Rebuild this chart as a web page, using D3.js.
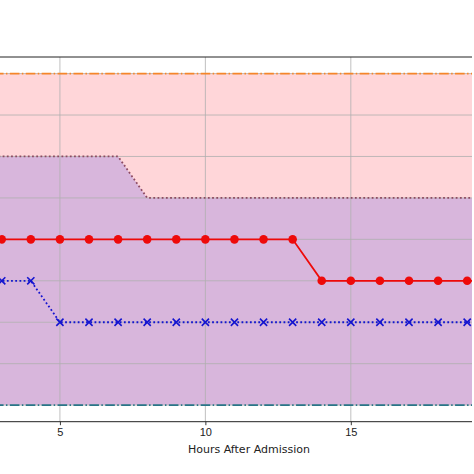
<!DOCTYPE html>
<html>
<head>
<meta charset="utf-8">
<script src="https://cdn.jsdelivr.net/npm/d3@7"></script>
<style>
  body { margin: 0; background: #fff; }
  svg { display: block; font-family: "DejaVu Sans", sans-serif; }
</style>
</head>
<body>
<svg id="chart" width="474" height="474"></svg>
<script>
// hours after admission (0-23), only part of it is in view
const hours = [0, 1, 2, 3, 4, 5, 6, 7, 8, 9, 10, 11, 12, 13, 14, 15, 16, 17, 18, 19, 20, 21, 22, 23]
const upperLimit = [8, 8, 8, 8, 8, 8, 8, 8, 8, 8, 8, 8, 8, 8, 8, 8, 8, 8, 8, 8, 8, 8, 8, 8]
const lowerLimit = [0, 0, 0, 0, 0, 0, 0, 0, 0, 0, 0, 0, 0, 0, 0, 0, 0, 0, 0, 0, 0, 0, 0, 0]
const threshold = [6, 6, 6, 6, 6, 6, 6, 6, 5, 5, 5, 5, 5, 5, 5, 5, 5, 5, 5, 5, 5, 5, 5, 5]
const observed = [4, 4, 4, 4, 4, 4, 4, 4, 4, 4, 4, 4, 4, 4, 3, 3, 3, 3, 3, 3, 3, 3, 3, 3]
const predicted = [3, 3, 3, 3, 3, 2, 2, 2, 2, 2, 2, 2, 2, 2, 2, 2, 2, 2, 2, 2, 2, 2, 2, 2]
const xGrid = [0, 5, 10, 15, 20]
const xTickLabels = [5, 10, 15]   // the ones inside the picture
const yTicks = [0, 1, 2, 3, 4, 5, 6, 7, 8]

const svg = d3.select('#chart')

// the axes are wider than the picture: only the middle part shows
const plot = { left: -119, right: 617, top: 57, bottom: 421.7 }

const x = d3.scaleLinear().domain([-1.15, 24.15]).range([plot.left, plot.right])
const y = d3.scaleLinear().domain([-0.4, 8.4]).range([plot.bottom, plot.top])

const rows = hours.map((h, i) => ({
    h: h,
    upper: upperLimit[i],
    lower: lowerLimit[i],
    thr: threshold[i],
    obs: observed[i],
    pred: predicted[i]
}))

svg.append('defs').append('clipPath').attr('id', 'clip')
    .append('rect')
    .attr('x', 0)
    .attr('y', plot.top)
    .attr('width', 472)
    .attr('height', plot.bottom - plot.top)

const g = svg.append('g').attr('clip-path', 'url(#clip)')

// normal range band
g.append('path')
    .datum(rows)
    .attr('fill', '#ffd6d9')
    .attr('d', d3.area().x(d => x(d.h)).y0(d => y(d.lower)).y1(d => y(d.upper)))

// band under the threshold
g.append('path')
    .datum(rows)
    .attr('fill', '#d8b6dc')
    .attr('d', d3.area().x(d => x(d.h)).y0(d => y(d.lower)).y1(d => y(d.thr)))

// grid
g.selectAll('line.xgrid').data(xGrid).enter().append('line')
    .attr('class', 'xgrid')
    .attr('x1', d => x(d)).attr('x2', d => x(d))
    .attr('y1', plot.top).attr('y2', plot.bottom)
    .attr('stroke', '#b0b0b0').attr('stroke-width', 0.8)
g.selectAll('line.ygrid').data(yTicks).enter().append('line')
    .attr('class', 'ygrid')
    .attr('x1', plot.left).attr('x2', plot.right)
    .attr('y1', d => y(d)).attr('y2', d => y(d))
    .attr('stroke', '#b0b0b0').attr('stroke-width', 0.8)

function drawLine(key, color, dash, width) {
    g.append('path')
        .datum(rows)
        .attr('fill', 'none')
        .attr('stroke', color)
        .attr('stroke-width', width)
        .attr('stroke-dasharray', dash)
        .attr('d', d3.line().x(d => x(d.h)).y(d => y(d[key])))
}

drawLine('upper', '#f5862a', '9.6 2.4 1.5 2.4', 1.8)
drawLine('lower', '#2a7588', '9.6 2.4 1.5 2.4', 1.8)
drawLine('thr', '#8c4a62', '1.8 2.4', 1.8)
drawLine('obs', '#ee0a0a', null, 1.8)
drawLine('pred', '#1414d0', '1.8 2.4', 1.8)

// observed markers
g.selectAll('circle.obs').data(rows).enter().append('circle')
    .attr('class', 'obs')
    .attr('cx', d => x(d.h))
    .attr('cy', d => y(d.obs))
    .attr('r', 4.3)
    .attr('fill', '#ee0a0a')

// predicted markers
const s = 3.6
g.selectAll('path.pred').data(rows).enter().append('path')
    .attr('class', 'pred')
    .attr('transform', d => `translate(${x(d.h)},${y(d.pred)})`)
    .attr('d', `M${-s},${-s}L${s},${s}M${-s},${s}L${s},${-s}`)
    .attr('stroke', '#1414d0')
    .attr('stroke-width', 1.6)
    .attr('fill', 'none')

// spines
svg.append('line')
    .attr('x1', 0).attr('x2', 472)
    .attr('y1', plot.top).attr('y2', plot.top)
    .attr('stroke', '#222').attr('stroke-width', 1)

const xAxis = d3.axisBottom(x)
    .tickValues(xTickLabels)
    .tickSize(3.5)
    .tickPadding(3.5)
    .tickFormat(d3.format('d'))

const ax = svg.append('g')
    .attr('transform', `translate(0,${plot.bottom})`)
    .call(xAxis)
ax.select('.domain').remove()
ax.selectAll('.tick line').attr('stroke', '#222').attr('stroke-width', 0.9)
ax.selectAll('.tick text').attr('fill', '#222').style('font-size', '11px')
ax.insert('line', ':first-child')
    .attr('x1', 0).attr('x2', 472)
    .attr('y1', 0).attr('y2', 0)
    .attr('stroke', '#222').attr('stroke-width', 1)

svg.append('text')
    .attr('x', (plot.left + plot.right) / 2)
    .attr('y', 453)
    .attr('text-anchor', 'middle')
    .style('font-size', '11px')
    .attr('fill', '#222')
    .text('Hours After Admission')
</script>
</body>
</html>
